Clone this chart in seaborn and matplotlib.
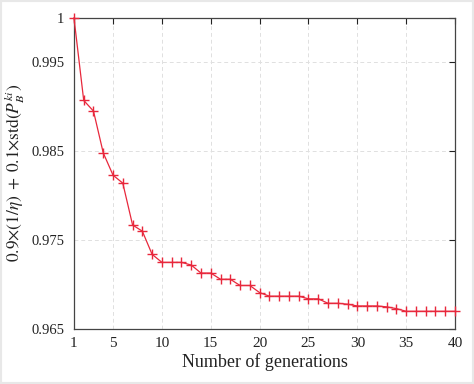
import matplotlib
matplotlib.use("Agg")
import matplotlib.pyplot as plt
import seaborn as sns
import pandas as pd

generations = list(range(1, 41))
fitness = [1.0, 0.9907, 0.9895, 0.9848, 0.9823, 0.9814, 0.9767, 0.9760, 0.9734, 0.9725,
           0.9725, 0.9725, 0.9722, 0.9713, 0.9713, 0.9706, 0.9706, 0.9699, 0.9699, 0.9691,
           0.9687, 0.9687, 0.9687, 0.9687, 0.9684, 0.9684, 0.9679, 0.9679, 0.9678, 0.9676,
           0.9676, 0.9676, 0.9675, 0.9673, 0.9670, 0.9670, 0.9670, 0.9670, 0.9670, 0.9670]
xticks = [1, 5, 10, 15, 20, 25, 30, 35, 40]
yticks = [0.965, 0.975, 0.985, 0.995, 1.0]
ytick_labels = ["0.965", "0.975", "0.985", "0.995", "1"]

sns.set_style("white")
plt.rcParams['font.family'] = ['Liberation Serif', 'DejaVu Serif']
plt.rcParams['mathtext.fontset'] = 'stix'

df = pd.DataFrame({"gen": generations, "val": fitness})

fig = plt.figure(figsize=(4.74, 3.84), dpi=100)
ax = fig.add_axes([0.156, 0.143, 0.804, 0.811])
sns.lineplot(data=df, x="gen", y="val", ax=ax, color="#e8283c", linewidth=0.9,
             marker="+", markersize=7, markeredgewidth=1.0, markeredgecolor="#e8283c",
             clip_on=False, zorder=5)

ax.set_xlim(1, 40)
ax.set_ylim(0.965, 1.0)
ax.set_xticks(xticks)
ax.set_xticklabels([str(t) for t in xticks])
ax.set_yticks(yticks)
ax.set_yticklabels(ytick_labels)
ax.grid(True, linestyle=(0, (4, 3)), color="#e0e0e0", linewidth=0.7)
ax.tick_params(direction="in", length=4, width=0.8, top=True, right=True,
               labelsize=11, colors="#222222", pad=6)
ax.tick_params(axis='y', labelsize=10.5, pad=7)
for s in ax.spines.values():
    s.set_color("#444444")
    s.set_linewidth(0.9)
ax.set_xlabel("Number of generations", fontsize=13, color="#222222", labelpad=2)
ax.set_ylabel(r"$0.9{\times}(1/\eta)\;+\;0.1{\times}\mathrm{std}(\overline{P_B^{ki}})$",
              fontsize=12.5, color="#222222", labelpad=3)

fig.patches.append(plt.Rectangle((0, 0), 1, 1, transform=fig.transFigure,
                                 fill=False, edgecolor="#e8e8e8", linewidth=3))
fig.savefig("out.png", dpi=100)
